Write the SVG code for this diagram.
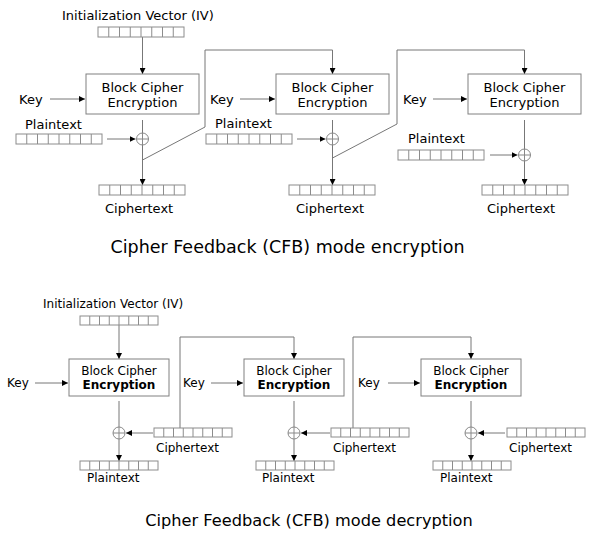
<svg xmlns="http://www.w3.org/2000/svg" xmlns:xlink="http://www.w3.org/1999/xlink" width="597" height="546" viewBox="0 0 597 546">
<style>
text{font-family:"DejaVu Sans","Liberation Sans",sans-serif;fill:#000}
.t13{font-size:13px}
.t12{font-size:12px}
.b{font-weight:bold}
.box{fill:#fff;stroke:#808080;stroke-width:1}
.reg{fill:#fff;stroke:#8c8c8c;stroke-width:1}
.ln{fill:none;stroke:#777;stroke-width:1}
.arr{fill:none;stroke:#777;stroke-width:1;marker-end:url(#ah)}
.xor{fill:#fff;stroke:#888;stroke-width:1}
</style>
<defs>
<marker id="ah" markerUnits="userSpaceOnUse" markerWidth="7" markerHeight="6" refX="6" refY="3" orient="auto">
<path d="M0,0 L6,3 L0,6 z" fill="#000"/>
</marker>
<g id="regT">
<rect class="reg" x="0" y="0" width="86" height="10"/>
<path class="reg" d="M10.75,0v10M21.5,0v10M32.25,0v10M43,0v10M53.75,0v10M64.5,0v10M75.25,0v10"/>
</g>
<g id="regB">
<rect class="reg" x="0" y="0" width="78" height="9"/>
<path class="reg" d="M9.75,0v9M19.5,0v9M29.25,0v9M39,0v9M48.75,0v9M58.5,0v9M68.25,0v9"/>
</g>
<g id="xorT">
<circle class="xor" cx="0" cy="0" r="6"/>
<path class="xor" d="M-6,0h12M0,-6v12"/>
</g>
</defs>
<rect width="597" height="546" fill="#fff"/>

<g id="connectors">
<!-- top -->
<path class="arr" d="M142.5,37V74"/>
<path class="arr" d="M50,99H85"/>
<path class="arr" d="M107,139H135.5"/>
<path class="ln" d="M142.5,120V133"/>
<path class="arr" d="M142.5,145V185"/>
<path class="arr" d="M142.5,160L205,127V50H332.5V74"/>
<path class="arr" d="M240,99H275"/>
<path class="arr" d="M297,139H325.5"/>
<path class="ln" d="M332.5,120V133"/>
<path class="arr" d="M332.5,145V185"/>
<path class="arr" d="M332.5,158L397,124V50H524.5V74"/>
<path class="arr" d="M433,99H467"/>
<path class="arr" d="M490,155H517.5"/>
<path class="ln" d="M524.5,120V149"/>
<path class="arr" d="M524.5,161V185"/>
<!-- bottom -->
<path class="arr" d="M119,325V359"/>
<path class="arr" d="M35,383H68"/>
<path class="ln" d="M119,401V427"/>
<path class="arr" d="M119,439V461"/>
<path class="arr" d="M153,433H126"/>
<path class="arr" d="M180,428V337H294V359"/>
<path class="arr" d="M211,383H243"/>
<path class="ln" d="M294,401V427"/>
<path class="arr" d="M294,439V461"/>
<path class="arr" d="M330,433H301"/>
<path class="arr" d="M353,428V337H471V359"/>
<path class="arr" d="M388,383H420"/>
<path class="ln" d="M471,401V427"/>
<path class="arr" d="M471,439V461"/>
<path class="arr" d="M505,433H478"/>
</g>

<!-- top diagram -->
<g id="iv-top">
<text class="t13" x="62" y="20">Initialization Vector (IV)</text>
<use href="#regT" xlink:href="#regT" x="98" y="27"/>
</g>
<g id="enc1">
<rect class="box" x="86" y="74" width="113" height="40"/>
<text class="t13" x="142.5" y="92" text-anchor="middle">Block Cipher</text>
<text class="t13" x="142.5" y="107" text-anchor="middle">Encryption</text>
</g>
<g id="key1"><text class="t13" x="19" y="104">Key</text></g>
<g id="pt1">
<text class="t13" x="25" y="129">Plaintext</text>
<use href="#regT" xlink:href="#regT" x="16" y="134"/>
</g>
<g id="xor1"><use href="#xorT" xlink:href="#xorT" x="142.5" y="139"/></g>
<g id="ct1">
<use href="#regT" xlink:href="#regT" x="99" y="185"/>
<text class="t13" x="105" y="213">Ciphertext</text>
</g>

<g id="enc2">
<rect class="box" x="276" y="74" width="113" height="40"/>
<text class="t13" x="332.5" y="92" text-anchor="middle">Block Cipher</text>
<text class="t13" x="332.5" y="107" text-anchor="middle">Encryption</text>
</g>
<g id="key2"><text class="t13" x="210" y="104">Key</text></g>
<g id="pt2">
<text class="t13" x="215" y="128">Plaintext</text>
<use href="#regT" xlink:href="#regT" x="206" y="134"/>
</g>
<g id="xor2"><use href="#xorT" xlink:href="#xorT" x="332.5" y="139"/></g>
<g id="ct2">
<use href="#regT" xlink:href="#regT" x="289" y="185"/>
<text class="t13" x="296" y="213">Ciphertext</text>
</g>

<g id="enc3">
<rect class="box" x="468" y="74" width="113" height="40"/>
<text class="t13" x="524.5" y="92" text-anchor="middle">Block Cipher</text>
<text class="t13" x="524.5" y="107" text-anchor="middle">Encryption</text>
</g>
<g id="key3"><text class="t13" x="403" y="104">Key</text></g>
<g id="pt3">
<text class="t13" x="408" y="143">Plaintext</text>
<use href="#regT" xlink:href="#regT" x="398" y="150"/>
</g>
<g id="xor3"><use href="#xorT" xlink:href="#xorT" x="524.5" y="155"/></g>
<g id="ct3">
<use href="#regT" xlink:href="#regT" x="482" y="185"/>
<text class="t13" x="487" y="213">Ciphertext</text>
</g>

<g id="title-enc"><text x="287.5" y="253" font-size="17.5" text-anchor="middle">Cipher Feedback (CFB) mode encryption</text></g>

<!-- bottom diagram -->
<g id="iv-bottom">
<text class="t12" x="43" y="308">Initialization Vector (IV)</text>
<use href="#regB" xlink:href="#regB" x="80" y="316"/>
</g>
<g id="dec1">
<rect class="box" x="69" y="359" width="100" height="37"/>
<text class="t12" x="119" y="375" text-anchor="middle">Block Cipher</text>
<text class="t12 b" x="119" y="389" text-anchor="middle">Encryption</text>
</g>
<g id="dkey1"><text class="t12" x="7" y="387">Key</text></g>
<g id="dxor1"><use href="#xorT" xlink:href="#xorT" x="119" y="433"/></g>
<g id="dct1">
<use href="#regB" xlink:href="#regB" x="154" y="428"/>
<text class="t12" x="156" y="452">Ciphertext</text>
</g>
<g id="dpt1">
<use href="#regB" xlink:href="#regB" x="80" y="461"/>
<text class="t12" x="87" y="482">Plaintext</text>
</g>

<g id="dec2">
<rect class="box" x="244" y="359" width="100" height="37"/>
<text class="t12" x="294" y="375" text-anchor="middle">Block Cipher</text>
<text class="t12 b" x="294" y="389" text-anchor="middle">Encryption</text>
</g>
<g id="dkey2"><text class="t12" x="183" y="387">Key</text></g>
<g id="dxor2"><use href="#xorT" xlink:href="#xorT" x="294" y="433"/></g>
<g id="dct2">
<use href="#regB" xlink:href="#regB" x="331" y="428"/>
<text class="t12" x="333" y="452">Ciphertext</text>
</g>
<g id="dpt2">
<use href="#regB" xlink:href="#regB" x="256" y="461"/>
<text class="t12" x="262" y="482">Plaintext</text>
</g>

<g id="dec3">
<rect class="box" x="421" y="359" width="100" height="37"/>
<text class="t12" x="471" y="375" text-anchor="middle">Block Cipher</text>
<text class="t12 b" x="471" y="389" text-anchor="middle">Encryption</text>
</g>
<g id="dkey3"><text class="t12" x="358" y="387">Key</text></g>
<g id="dxor3"><use href="#xorT" xlink:href="#xorT" x="471" y="433"/></g>
<g id="dct3">
<use href="#regB" xlink:href="#regB" x="507" y="428"/>
<text class="t12" x="509" y="452">Ciphertext</text>
</g>
<g id="dpt3">
<use href="#regB" xlink:href="#regB" x="433" y="461"/>
<text class="t12" x="440" y="482">Plaintext</text>
</g>

<g id="title-dec"><text x="309" y="526" font-size="16.2" text-anchor="middle">Cipher Feedback (CFB) mode decryption</text></g>
</svg>
